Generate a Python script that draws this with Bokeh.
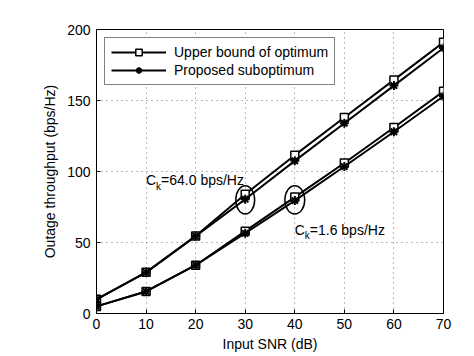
from bokeh.plotting import figure
from bokeh.models import Range1d, FixedTicker, Legend, LegendItem, ColumnDataSource
from bokeh.core.properties import value
from bokeh.embed import file_html
from bokeh.resources import INLINE

# ---- data ----
snr = [0, 10, 20, 30, 40, 50, 60, 70]
upper_64 = [10, 29, 54.5, 84, 111.5, 138, 164.5, 191]
sub_64 = [10, 29, 54.5, 80.5, 107.5, 134, 160.5, 187]
upper_16 = [5, 15.5, 34, 58, 82, 106, 131, 156.5]
sub_16 = [5, 15.5, 34, 56.5, 79.5, 103.5, 128, 153]

x_ticks = [0, 10, 20, 30, 40, 50, 60, 70]
y_ticks = [0, 50, 100, 150, 200]

# ellipse annotations (data units)
ell_x = [30, 40]
ell_y = [80, 80]
ell_w = [3.8, 4.0]
ell_h = [20, 20]

# text annotations (data units)
lab_x = [10, 40]
lab_y = [93.7, 59]
lab_rest = ["=64.0 bps/Hz", "=1.6 bps/Hz"]

FONT = "Liberation Sans"

p = figure(width=474, height=356, x_range=Range1d(0, 70), y_range=Range1d(0, 200),
           output_backend="svg", toolbar_location=None,
           min_border_left=96, min_border_right=31, min_border_top=29, min_border_bottom=43,
           background_fill_color="white", border_fill_color="white")

p.outline_line_color = "black"
p.outline_line_width = 1

p.xaxis.ticker = FixedTicker(ticks=x_ticks)
p.yaxis.ticker = FixedTicker(ticks=y_ticks)
p.xaxis.axis_label = "Input SNR (dB)"
p.yaxis.axis_label = "Outage throughput (bps/Hz)"
for ax in (p.xaxis, p.yaxis):
    ax.major_tick_in = 4
    ax.major_tick_out = 0
    ax.minor_tick_line_color = None
    ax.axis_line_color = "black"
    ax.major_tick_line_color = "black"
    ax.major_label_text_font = FONT
    ax.major_label_text_font_size = "14px"
    ax.major_label_text_color = "black"
    ax.axis_label_text_font = FONT
    ax.axis_label_text_font_size = "14px"
    ax.axis_label_text_font_style = "normal"
    ax.axis_label_text_color = "black"
p.xaxis.major_label_standoff = 5
p.xaxis.axis_label_standoff = 4
p.yaxis.major_label_standoff = 6
p.yaxis.axis_label_standoff = 6

p.grid.grid_line_color = "#777777"
p.grid.grid_line_dash = "1 4"
p.grid.grid_line_width = 1
p.xgrid.ticker = FixedTicker(ticks=x_ticks)
p.ygrid.ticker = FixedTicker(ticks=y_ticks)

LW = 2
# upper bound curves (squares)
l_u64 = p.line(snr, upper_64, line_color="black", line_width=LW)
m_u64 = p.scatter(snr, upper_64, marker="square", size=8, line_color="black", fill_color="white", line_width=1.5)
l_u16 = p.line(snr, upper_16, line_color="black", line_width=LW)
m_u16 = p.scatter(snr, upper_16, marker="square", size=8, line_color="black", fill_color="white", line_width=1.5)
# proposed suboptimum (stars)
l_s64 = p.line(snr, sub_64, line_color="black", line_width=LW)
m_s64 = p.scatter(snr, sub_64, marker="asterisk", size=9, line_color="black", line_width=2)
l_s16 = p.line(snr, sub_16, line_color="black", line_width=LW)
m_s16 = p.scatter(snr, sub_16, marker="asterisk", size=9, line_color="black", line_width=2)

# ellipses
p.ellipse(x=ell_x, y=ell_y, width=ell_w, height=ell_h, fill_color=None, line_color="black", line_width=1.5)

# labels with subscript
src = ColumnDataSource(dict(x=lab_x, y=lab_y, c=["C", "C"], k=["k", "k"], rest=lab_rest))
p.text(x="x", y="y", text="c", source=src, text_font=value(FONT), text_font_size="14px",
       text_baseline="alphabetic", text_align="left", text_color="black")
p.text(x="x", y="y", text="k", source=src, text_font=value(FONT), text_font_size="10px",
       text_baseline="alphabetic", text_align="left", text_color="black", x_offset=10, y_offset=6)
p.text(x="x", y="y", text="rest", source=src, text_font=value(FONT), text_font_size="14px",
       text_baseline="alphabetic", text_align="left", text_color="black", x_offset=15)

legend = Legend(items=[
    LegendItem(label="Upper bound of optimum", renderers=[l_u64, m_u64]),
    LegendItem(label="Proposed suboptimum", renderers=[l_s64, m_s64]),
], location="top_left")
legend.margin = 8
legend.padding = 6
legend.spacing = 2
legend.glyph_width = 55
legend.glyph_height = 16
legend.label_height = 16
legend.label_standoff = 8
legend.border_line_color = "black"
legend.border_line_width = 1
legend.background_fill_color = "white"
legend.background_fill_alpha = 1
legend.label_text_font = FONT
legend.label_text_font_size = "14px"
legend.label_text_color = "black"
p.add_layout(legend)

open("out.html", "w").write(file_html(p, INLINE))
